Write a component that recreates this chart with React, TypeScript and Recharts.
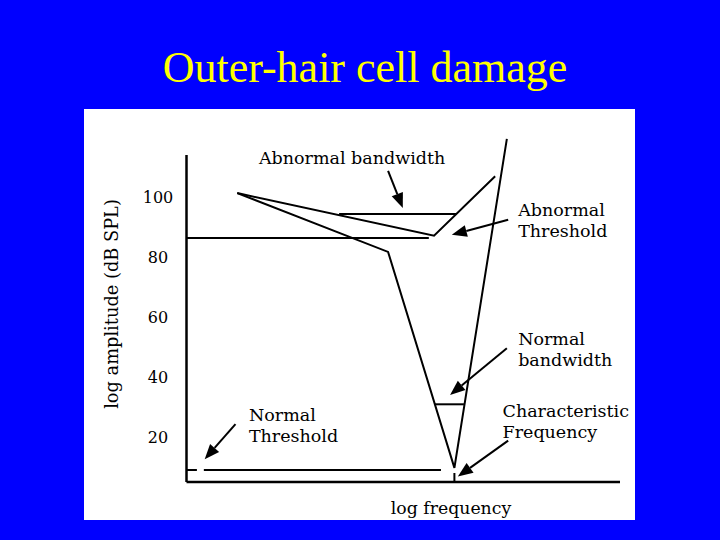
import React from 'react';
import { LineChart, Line, XAxis, YAxis, ReferenceLine, ReferenceDot } from 'recharts';

// x: log-frequency units (0..100 across the axis), v: level in dB SPL
const normalCurve = [
  { x: 11.7, v: 101.3 },
  { x: 46.5, v: 81.7 },
  { x: 61.8, v: 9.7 },
  { x: 73.9, v: 119.4 },
];
const abnormalCurve = [
  { x: 11.7, v: 101.3 },
  { x: 57.1, v: 87.1 },
  { x: 71.2, v: 106.9 },
];
const abnormalBandwidthLine = [
  { x: 35.2, v: 94.3 },
  { x: 62.4, v: 94.3 },
];
const abnormalThresholdLine = [
  { x: 0, v: 86.3 },
  { x: 55.9, v: 86.3 },
];
const normalBandwidthLine = [
  { x: 57.3, v: 30.9 },
  { x: 64.0, v: 30.9 },
];
const normalThresholdLine = [
  { x: 4.0, v: 9 },
  { x: 58.7, v: 9 },
];
const normalThresholdDash = [
  { x: 0.1, v: 9 },
  { x: 2.4, v: 9 },
];
const yTicks = [20, 40, 60, 80, 100];
const yAxisSegment = [
  { x: 0, y: 5 },
  { x: 0, y: 114 },
];
const cfTickSegment = [
  { x: 61.8, y: 5 },
  { x: 61.8, y: 8 },
];
const arrows = [
  { x1: 46.5, v1: 108.7, x2: 49.9, v2: 96.3 },
  { x1: 74.2, v1: 92.4, x2: 61.2, v2: 87.4 },
  { x1: 73.9, v1: 49.6, x2: 60.8, v2: 34.0 },
  { x1: 74.2, v1: 18.8, x2: 62.6, v2: 6.8 },
  { x1: 11.3, v1: 24.3, x2: 4.2, v2: 12.6 },
];
const annotations = [
  { lines: ['Abnormal bandwidth'], x: 16.7, v: 111 },
  { lines: ['Abnormal', 'Threshold'], x: 76.5, v: 93.7 },
  { lines: ['Normal', 'bandwidth'], x: 76.5, v: 50.7 },
  { lines: ['Characteristic', 'Frequency'], x: 72.9, v: 26.8 },
  { lines: ['Normal', 'Threshold'], x: 14.4, v: 25.4 },
];
const titleText = 'Outer-hair cell damage';
const yLabelText = 'log amplitude (dB SPL)';
const xLabelText = 'log frequency';

const FONT = '"DejaVu Serif", serif';

const YTick = (props: any) => {
  const { y, payload } = props;
  return (
    <text x={158} y={y} dy={6} textAnchor="middle" fontFamily={FONT} fontSize={16} fill="#000">
      {payload.value}
    </text>
  );
};

const YLabel = () => (
  <text
    transform="translate(118,304) rotate(-90)"
    textAnchor="middle"
    fontFamily={FONT}
    fontSize={17.8}
    fill="#000"
  >
    {yLabelText}
  </text>
);

const XLabel = () => (
  <text x={451} y={514} textAnchor="middle" fontFamily={FONT} fontSize={17.3} fill="#000">
    {xLabelText}
  </text>
);

const Arrow = (p: any) => {
  const { x1, y1, x2, y2 } = p;
  const dx = x2 - x1;
  const dy = y2 - y1;
  const len = Math.hypot(dx, dy) || 1;
  const ux = dx / len;
  const uy = dy / len;
  const hl = 15;
  const hw = 6;
  const bx = x2 - ux * hl;
  const by = y2 - uy * hl;
  const pts = `${x2},${y2} ${bx - uy * hw},${by + ux * hw} ${bx + uy * hw},${by - ux * hw}`;
  return (
    <g>
      <line x1={x1} y1={y1} x2={bx} y2={by} stroke="#000" strokeWidth={2} />
      <polygon points={pts} fill="#000" />
    </g>
  );
};

const lineProps = {
  dataKey: 'v',
  stroke: '#000',
  strokeWidth: 2,
  dot: false,
  activeDot: false,
  isAnimationActive: false,
  type: 'linear' as const,
};

export default function App() {
  return (
    <div
      style={{
        position: 'absolute',
        left: 0,
        top: 0,
        width: 720,
        height: 540,
        background: '#0000FF',
        overflow: 'hidden',
      }}
    >
      <div
        style={{
          position: 'absolute',
          left: 0,
          top: 46,
          width: 730,
          textAlign: 'center',
          fontFamily: '"Liberation Serif", "Times New Roman", serif',
          fontSize: 44,
          lineHeight: '44px',
          color: '#FFFF00',
        }}
      >
        {titleText}
      </div>
      <div
        style={{
          position: 'absolute',
          left: 84,
          top: 109,
          width: 551,
          height: 411,
          background: '#FFFFFF',
        }}
      />
      <div style={{ position: 'absolute', left: 0, top: 0 }}>
        <LineChart
          width={720}
          height={540}
          margin={{ top: 122, right: 100, bottom: 28, left: 126.5 }}
        >
          <XAxis
            type="number"
            dataKey="x"
            domain={[0, 100]}
            allowDataOverflow
            tick={false}
            tickLine={false}
            axisLine={{ stroke: '#000', strokeWidth: 2.5 }}
            height={30}
            label={<XLabel />}
          />
          <YAxis
            type="number"
            dataKey="v"
            domain={[5, 125]}
            allowDataOverflow
            ticks={yTicks}
            tick={<YTick />}
            tickLine={false}
            axisLine={false}
            width={60}
            label={<YLabel />}
          />
          <ReferenceLine segment={yAxisSegment} stroke="#000" strokeWidth={2.5} />
          <ReferenceLine segment={cfTickSegment} stroke="#000" strokeWidth={2} />
          <Line data={normalCurve} {...lineProps} />
          <Line data={abnormalCurve} {...lineProps} />
          <Line data={abnormalBandwidthLine} {...lineProps} />
          <Line data={abnormalThresholdLine} {...lineProps} />
          <Line data={normalBandwidthLine} {...lineProps} />
          <Line data={normalThresholdLine} {...lineProps} />
          <Line data={normalThresholdDash} {...lineProps} />
          {arrows.map((a, i) => (
            <ReferenceLine
              key={'arrow' + i}
              segment={[
                { x: a.x1, y: a.v1 },
                { x: a.x2, y: a.v2 },
              ]}
              ifOverflow="visible"
              shape={Arrow}
            />
          ))}
          {annotations.map((a, i) => (
            <ReferenceDot
              key={'ann' + i}
              x={a.x}
              y={a.v}
              ifOverflow="visible"
              shape={(p: any) => (
                <text x={p.cx} y={p.cy} fontFamily={FONT} fontSize={17.5} fill="#000">
                  {a.lines.map((l, j) => (
                    <tspan key={j} x={p.cx} dy={j === 0 ? 0 : 21}>
                      {l}
                    </tspan>
                  ))}
                </text>
              )}
            />
          ))}
        </LineChart>
      </div>
    </div>
  );
}
